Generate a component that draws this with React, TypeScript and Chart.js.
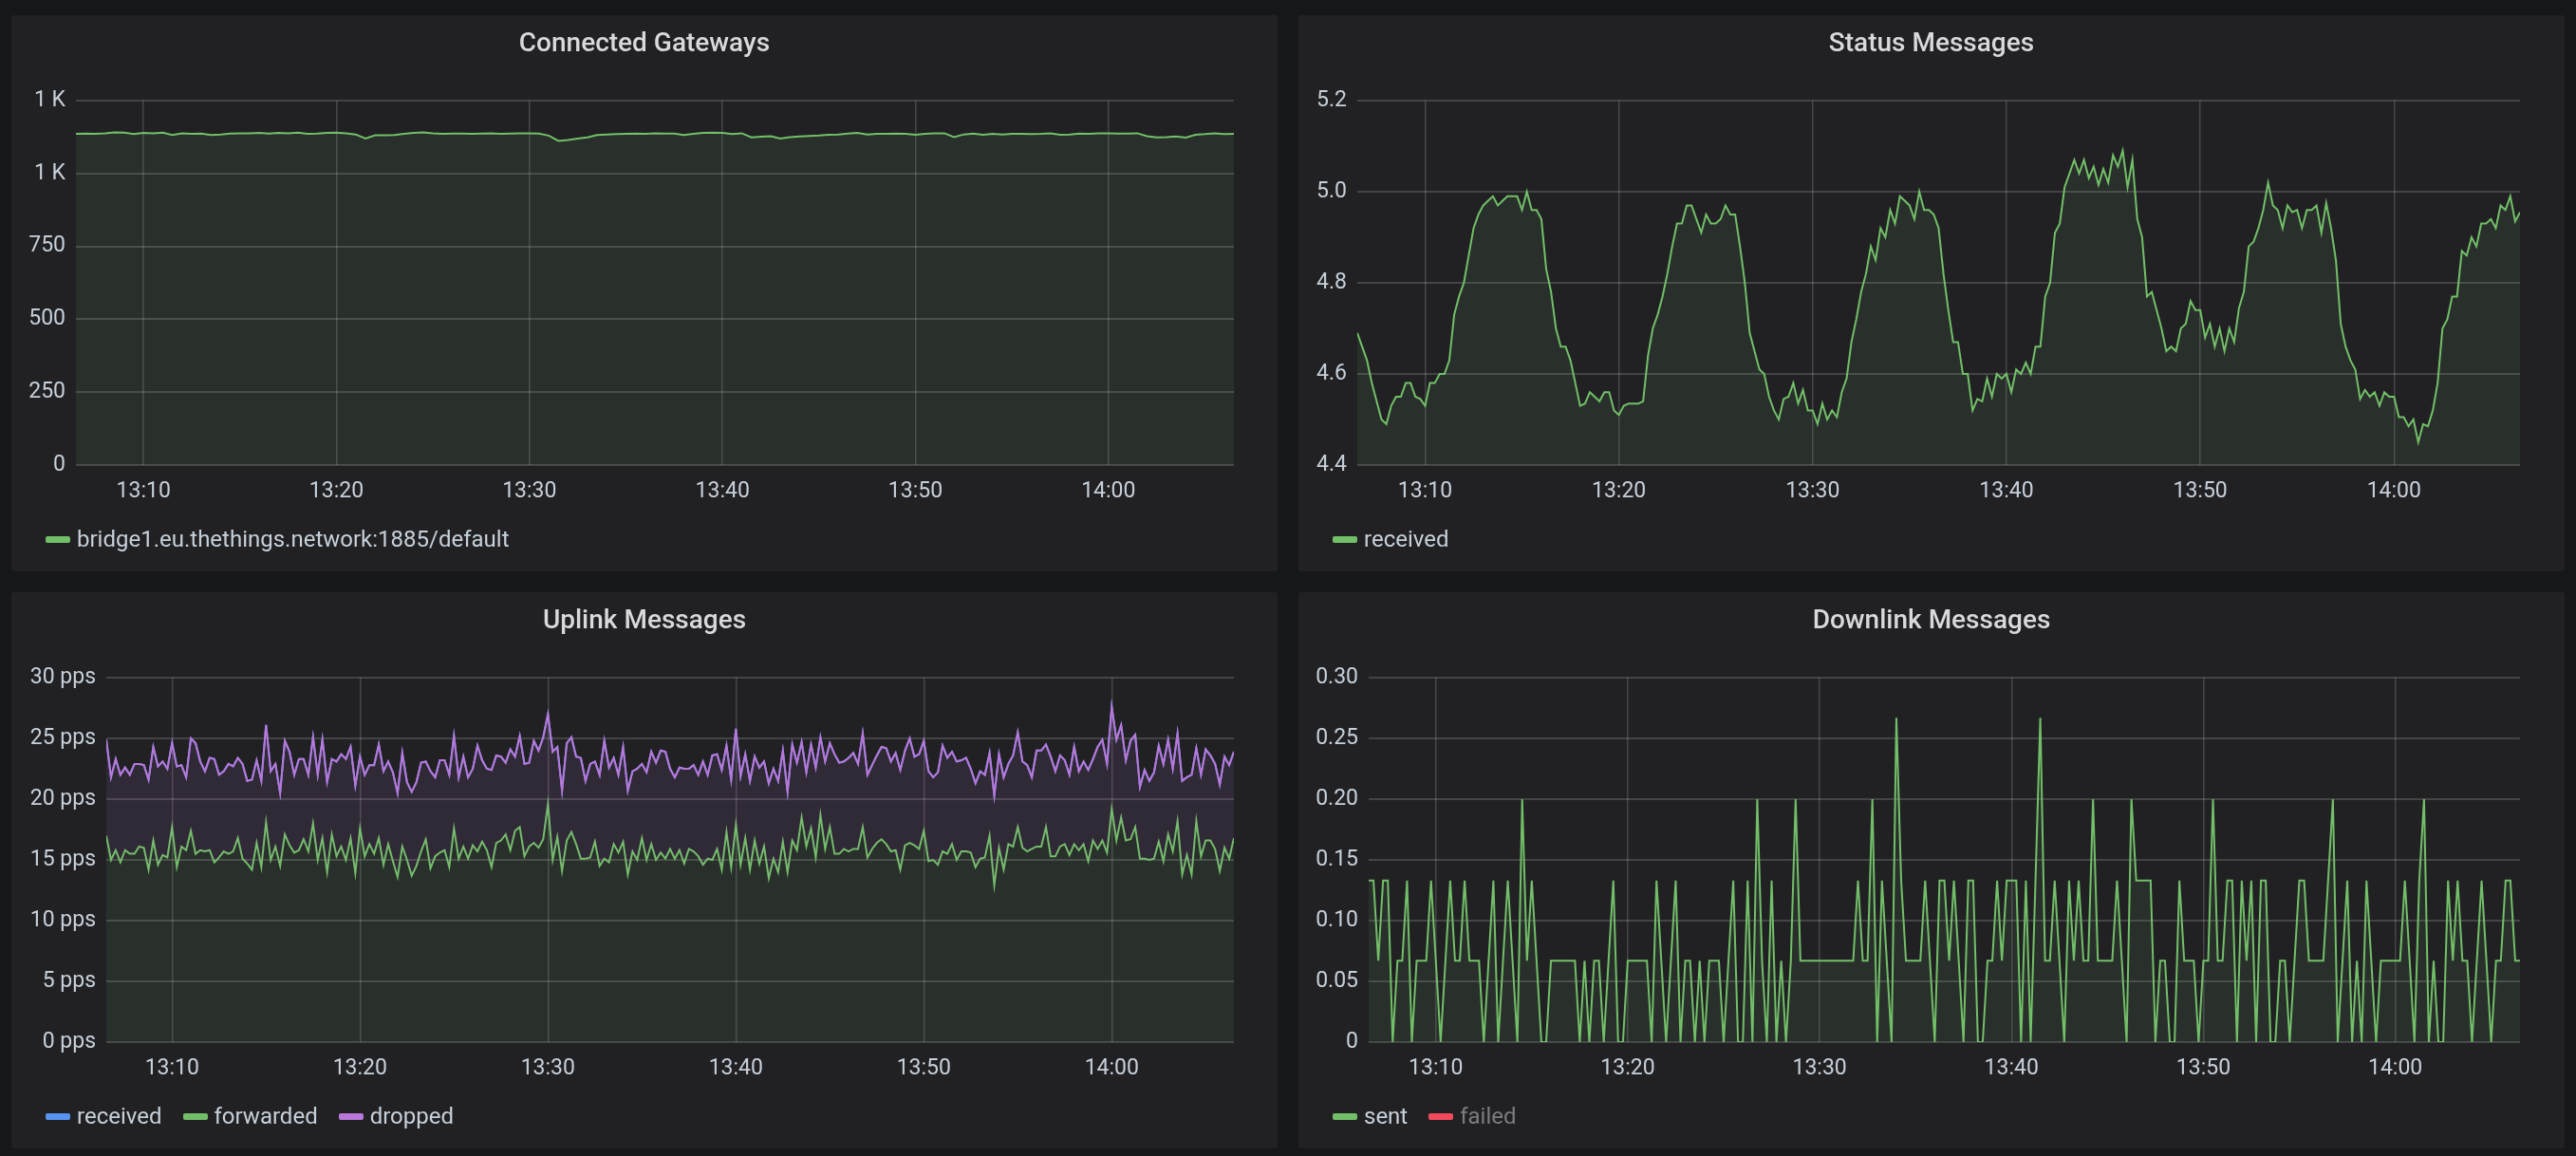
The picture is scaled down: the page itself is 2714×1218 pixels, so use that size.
import React, { useEffect, useRef } from "react";
import { Chart, registerables } from "chart.js";

Chart.register(...registerables);

// ---- time axis (minutes after 13:00) ----
const X_MIN = 6.5;
const X_MAX = 66.5;
const timeTicks = [10, 20, 30, 40, 50, 60];
const timeLabels = ["13:10", "13:20", "13:30", "13:40", "13:50", "14:00"];

// ---- y tick values / labels ----
const gatewayTicks = [0, 250, 500, 750, 1000, 1250];
const gatewayTickLabels = ["0", "250", "500", "750", "1 K", "1 K"];
const statusTicks = [4.4, 4.6, 4.8, 5.0, 5.2];
const statusTickLabels = ["4.4", "4.6", "4.8", "5.0", "5.2"];
const uplinkTicks = [0, 5, 10, 15, 20, 25, 30];
const uplinkTickLabels = ["0 pps", "5 pps", "10 pps", "15 pps", "20 pps", "25 pps", "30 pps"];
const downlinkTicks = [0, 0.05, 0.1, 0.15, 0.2, 0.25, 0.3];
const downlinkTickLabels = ["0", "0.05", "0.10", "0.15", "0.20", "0.25", "0.30"];

// ---- series ----
// Connected gateways, one sample per 30 s from 13:06:30 to 14:06:30
const gatewaysConnected = [
  1136, 1137, 1136, 1138, 1141, 1140, 1135, 1139, 1138, 1140,
  1132, 1138, 1136, 1137, 1132, 1134, 1137, 1138, 1138, 1139,
  1137, 1139, 1138, 1140, 1136, 1137, 1139, 1140, 1138, 1134,
  1120, 1131, 1131, 1132, 1136, 1139, 1141, 1138, 1136, 1137,
  1137, 1136, 1137, 1138, 1136, 1137, 1138, 1138, 1137, 1130,
  1112, 1115, 1120, 1124, 1132, 1134, 1135, 1136, 1137, 1136,
  1138, 1137, 1137, 1132, 1136, 1139, 1140, 1139, 1135, 1138,
  1124, 1126, 1128, 1120, 1125, 1127, 1129, 1130, 1133, 1134,
  1137, 1139, 1134, 1136, 1136, 1137, 1136, 1133, 1136, 1138,
  1138, 1125, 1134, 1137, 1133, 1136, 1134, 1136, 1136, 1135,
  1136, 1138, 1133, 1134, 1137, 1136, 1138, 1138, 1137, 1137,
  1138, 1128, 1124, 1125, 1127, 1123, 1133, 1135, 1138, 1135,
  1136,
];

// Status messages received, one sample per 15 s
const statusReceived = [
  4.69, 4.66, 4.63, 4.58, 4.54, 4.5, 4.49, 4.53, 4.55, 4.55,
  4.58, 4.58, 4.55, 4.545, 4.53, 4.58, 4.58, 4.6, 4.6, 4.63,
  4.73, 4.77, 4.8, 4.86, 4.92, 4.95, 4.97, 4.98, 4.99, 4.97,
  4.98, 4.99, 4.99, 4.99, 4.96, 5.0, 4.96, 4.96, 4.94, 4.83,
  4.78, 4.7, 4.66, 4.66, 4.63, 4.58, 4.53, 4.535, 4.56, 4.55,
  4.54, 4.56, 4.56, 4.52, 4.51, 4.53, 4.535, 4.535, 4.535, 4.54,
  4.64, 4.7, 4.73, 4.77, 4.82, 4.88, 4.93, 4.93, 4.97, 4.97,
  4.94, 4.91, 4.95, 4.93, 4.93, 4.94, 4.97, 4.95, 4.95, 4.88,
  4.8, 4.69, 4.65, 4.61, 4.6, 4.55, 4.52, 4.5, 4.545, 4.55,
  4.58, 4.535, 4.565, 4.52, 4.52, 4.49, 4.535, 4.5, 4.52, 4.505,
  4.56, 4.59, 4.67, 4.72, 4.78, 4.82, 4.88, 4.85, 4.92, 4.9,
  4.96, 4.93, 4.99, 4.98, 4.97, 4.94, 5.0, 4.96, 4.96, 4.95,
  4.92, 4.82, 4.74, 4.67, 4.67, 4.6, 4.6, 4.52, 4.545, 4.54,
  4.59, 4.55, 4.6, 4.59, 4.6, 4.56, 4.61, 4.6, 4.625, 4.6,
  4.66, 4.66, 4.77, 4.8, 4.91, 4.93, 5.01, 5.04, 5.07, 5.04,
  5.07, 5.03, 5.055, 5.015, 5.05, 5.02, 5.08, 5.055, 5.09, 5.01,
  5.07, 4.94, 4.9, 4.77, 4.78, 4.74, 4.7, 4.65, 4.66, 4.65,
  4.7, 4.71, 4.76, 4.74, 4.74, 4.68, 4.71, 4.66, 4.7, 4.65,
  4.7, 4.67, 4.745, 4.78, 4.88, 4.89, 4.92, 4.96, 5.02, 4.97,
  4.96, 4.92, 4.97, 4.955, 4.96, 4.92, 4.96, 4.96, 4.97, 4.91,
  4.975, 4.92, 4.85, 4.71, 4.66, 4.63, 4.61, 4.545, 4.565, 4.55,
  4.56, 4.53, 4.56, 4.55, 4.55, 4.505, 4.505, 4.485, 4.5, 4.45,
  4.49, 4.485, 4.52, 4.58, 4.7, 4.72, 4.77, 4.77, 4.87, 4.86,
  4.9, 4.88, 4.93, 4.93, 4.94, 4.92, 4.97, 4.96, 4.99, 4.935,
  4.955,
];

// Uplink: received (top edge of the stack) and forwarded, one sample per 15 s
const uplinkReceived = [
  24.9, 21.8, 23.3, 22.0, 22.6, 22.0, 22.9, 22.9, 22.8, 21.6,
  24.3, 22.7, 23.1, 22.5, 24.6, 22.7, 22.8, 21.8, 25.0, 24.6,
  23.1, 22.3, 23.4, 23.3, 22.0, 22.3, 22.9, 22.7, 23.4, 22.9,
  21.5, 21.6, 23.2, 21.5, 26.1, 22.3, 22.9, 20.5, 24.8, 23.9,
  22.0, 23.3, 23.3, 22.0, 25.1, 22.0, 24.9, 21.4, 23.3, 23.1,
  23.7, 23.3, 24.3, 21.1, 23.5, 22.0, 22.8, 22.8, 24.5, 22.3,
  23.1, 22.2, 20.5, 23.8, 21.4, 20.6, 21.4, 23.0, 23.1, 22.3,
  21.8, 23.2, 23.2, 22.0, 25.2, 21.8, 23.5, 21.8, 22.5, 24.4,
  23.2, 22.5, 22.4, 23.6, 23.5, 23.0, 24.1, 23.5, 25.2, 22.9,
  23.0, 24.8, 24.0, 25.1, 27.0, 23.9, 24.3, 20.7, 24.6, 25.1,
  23.5, 23.4, 21.5, 22.9, 23.1, 22.0, 24.8, 22.6, 23.4, 22.0,
  24.3, 20.7, 22.3, 22.5, 22.9, 22.2, 23.9, 23.0, 24.0, 23.9, 22.5,
  21.8, 22.6, 22.5, 22.5, 22.8, 22.0, 23.1, 22.0, 23.6, 23.7,
  22.4, 24.4, 21.6, 25.8, 21.9, 23.7, 21.5, 23.5, 22.6, 23.1,
  21.3, 22.5, 21.5, 24.0, 20.6, 24.5, 23.0, 24.7, 22.2, 24.5,
  22.6, 25.1, 23.1, 24.6, 23.7, 23.0, 23.1, 23.4, 23.8, 22.9,
  25.4, 22.0, 22.8, 23.6, 24.3, 24.2, 23.1, 23.8, 22.4, 24.0,
  25.0, 23.5, 23.7, 24.8, 22.3, 21.8, 22.2, 24.4, 23.4, 23.9,
  23.1, 23.2, 23.4, 22.5, 21.3, 22.3, 22.0, 23.8, 20.3, 23.7,
  21.8, 22.9, 23.6, 25.5, 23.1, 22.8, 21.8, 24.0, 24.0, 24.5,
  23.5, 22.3, 23.6, 23.2, 22.0, 24.3, 22.3, 23.1, 22.4, 23.3,
  24.3, 24.9, 22.9, 27.6, 24.9, 26.1, 23.2, 24.8, 25.3, 21.0,
  22.4, 21.5, 22.2, 24.4, 22.9, 24.9, 22.5, 25.4, 21.5, 21.8,
  22.0, 24.2, 22.0, 24.1, 23.6, 22.9, 21.2, 23.5, 22.8, 23.9,
];

const uplinkForwarded = [
  17.0, 15.0, 15.8, 14.8, 15.8, 15.5, 15.5, 16.1, 16.0, 14.2,
  16.6, 14.6, 15.4, 15.2, 17.7, 14.4, 16.1, 15.8, 17.4, 15.5,
  15.8, 15.7, 15.8, 14.8, 15.2, 15.7, 15.5, 15.7, 16.8, 15.1,
  14.7, 14.2, 16.4, 14.4, 18.1, 15.0, 16.1, 14.5, 17.1, 16.2,
  15.6, 15.8, 16.7, 15.7, 18.0, 15.0, 16.8, 14.0, 17.1, 15.3,
  16.1, 15.0, 16.8, 13.9, 17.6, 15.3, 16.3, 15.5, 16.8, 14.6,
  16.3, 14.9, 13.6, 16.1, 15.0, 13.7, 14.5, 15.7, 16.7, 14.3,
  15.3, 15.6, 15.8, 14.4, 17.6, 15.1, 16.1, 15.1, 16.2, 15.7,
  16.5, 15.8, 14.4, 16.4, 16.6, 17.1, 15.8, 17.4, 17.7, 15.3,
  16.1, 16.4, 16.0, 16.7, 19.6, 15.0, 16.9, 14.1, 16.6, 17.3,
  16.3, 15.1, 15.1, 15.2, 16.5, 14.5, 15.1, 14.8, 16.3, 15.6,
  16.5, 13.8, 15.7, 15.0, 16.8, 15.0, 16.3, 15.0, 15.6, 15.1, 15.9,
  15.1, 15.8, 14.7, 15.9, 15.7, 15.3, 14.6, 15.1, 15.0, 15.9,
  14.2, 17.3, 14.4, 17.9, 14.6, 16.8, 14.2, 16.6, 14.7, 16.1,
  13.5, 15.1, 14.0, 16.5, 14.0, 16.6, 15.8, 18.5, 16.1, 17.6,
  15.2, 18.7, 15.9, 17.7, 15.5, 15.5, 15.9, 15.7, 15.9, 15.9,
  17.7, 15.2, 15.9, 16.4, 16.7, 16.3, 15.7, 15.8, 14.2, 16.2,
  16.4, 16.2, 15.9, 17.4, 14.9, 15.0, 14.6, 15.7, 15.5, 16.3,
  15.0, 15.7, 15.7, 15.6, 14.4, 15.1, 15.2, 17.0, 12.9, 16.0,
  14.2, 16.3, 16.1, 17.7, 16.0, 15.7, 15.9, 16.1, 16.1, 17.7,
  15.3, 15.3, 16.1, 16.3, 15.4, 16.3, 15.8, 16.3, 14.9, 16.6,
  15.9, 16.6, 15.6, 19.2, 16.6, 18.5, 16.6, 16.7, 17.7, 15.1,
  15.1, 15.0, 15.1, 16.5, 14.9, 17.1, 15.7, 18.2, 13.8, 15.4,
  13.8, 18.2, 15.3, 16.6, 16.6, 15.9, 14.1, 16.0, 15.1, 16.8,
];

// Downlink messages sent per second, one sample per 15 s
const downlinkSent = [
  0.133, 0.133, 0.067, 0.133, 0.133, 0, 0.067, 0.067, 0.133, 0,
  0.067, 0.067, 0.067, 0.133, 0.067, 0, 0.067, 0.133, 0.067, 0.067,
  0.133, 0.067, 0.067, 0.067, 0, 0.067, 0.133, 0, 0.067, 0.133,
  0.067, 0, 0.2, 0.067, 0.133, 0.067, 0, 0, 0.067, 0.067,
  0.067, 0.067, 0.067, 0.067, 0, 0.067, 0, 0.067, 0.067, 0,
  0.067, 0.133, 0, 0, 0.067, 0.067, 0.067, 0.067, 0.067, 0,
  0.133, 0.067, 0, 0.067, 0.133, 0, 0.067, 0.067, 0, 0.067,
  0, 0.067, 0.067, 0.067, 0, 0.067, 0.133, 0, 0, 0.133,
  0, 0.2, 0.067, 0, 0.133, 0, 0.067, 0, 0.067, 0.2,
  0.067, 0.067, 0.067, 0.067, 0.067, 0.067, 0.067, 0.067, 0.067, 0.067,
  0.067, 0.067, 0.133, 0.067, 0.067, 0.2, 0, 0.133, 0.067, 0,
  0.267, 0.133, 0.067, 0.067, 0.067, 0.067, 0.133, 0.067, 0, 0.133,
  0.133, 0.067, 0.133,
  0.067, 0, 0.133, 0.133, 0, 0, 0.067, 0.067, 0.133, 0.067,
  0.133, 0.133, 0.133, 0, 0.133, 0, 0.133, 0.267, 0.067, 0.067,
  0.133, 0.067, 0, 0.133, 0.067, 0.133, 0.067, 0.067, 0.2, 0.067,
  0.067, 0.067, 0.067, 0.133, 0.067, 0, 0.2, 0.133, 0.133, 0.133,
  0.133, 0, 0.067, 0.067, 0, 0, 0.133, 0.067, 0.067, 0.067,
  0, 0.067, 0.067, 0.2, 0.067, 0.067, 0.133, 0.133, 0, 0.133,
  0.067, 0.133, 0, 0.133, 0.133, 0, 0, 0.067, 0.067, 0,
  0.067, 0.133, 0.133, 0.067, 0.067, 0.067, 0.067, 0.133, 0.2, 0,
  0.067, 0.133, 0, 0.067, 0, 0.133, 0.067, 0, 0.067, 0.067,
  0.067, 0.067, 0.067, 0.133, 0.067, 0, 0.133, 0.2, 0, 0.067,
  0, 0, 0.133, 0.067, 0.133, 0.067, 0.067, 0, 0.067, 0.133,
  0.067, 0, 0.067, 0.067, 0.133, 0.133, 0.067, 0.067,
];
const downlinkFailed: number[] = [];

// ---- styling ----
const PAGE_BG = "#161719";
const PANEL_BG = "#212124";
const TEXT = "#c7d0d9";
const TITLE = "#d8d9da";
const GRID_H = "rgba(255,255,255,0.16)";
const GRID_V = "rgba(255,255,255,0.17)";
const GREEN = "#73BF69";
const PURPLE = "#B877D9";
const BLUE = "#5794F2";
const RED = "#F2495C";
const GREEN_FILL = "rgba(115,191,105,0.1)";
const PURPLE_FILL = "rgba(184,119,217,0.1)";
const FONT = "Roboto, 'Noto Sans', sans-serif";

const PANEL_W = 1334;
const PANEL_H = 586;
const X_AXIS_H = 60;

type Plot = { l: number; r: number; t: number; b: number };
type LegendItem = { label: string; color: string; hidden?: boolean };

function toPoints(values: number[]) {
  const step = values.length > 1 ? (X_MAX - X_MIN) / (values.length - 1) : 0;
  return values.map((y, i) => ({ x: X_MIN + i * step, y }));
}

function makeOptions(plot: Plot, ticks: number[], labels: string[]): any {
  const tickFont = { family: FONT, size: 23 };
  return {
    responsive: false,
    maintainAspectRatio: false,
    animation: false,
    events: [],
    layout: {
      padding: {
        left: 0,
        right: PANEL_W - plot.r,
        top: plot.t,
        bottom: PANEL_H - plot.b - X_AXIS_H,
      },
    },
    plugins: {
      legend: { display: false },
      tooltip: { enabled: false },
      title: { display: false },
    },
    elements: {
      point: { radius: 0 },
      line: { tension: 0, borderWidth: 2 },
    },
    scales: {
      x: {
        type: "linear",
        min: X_MIN,
        max: X_MAX,
        afterBuildTicks: (s: any) => {
          s.ticks = timeTicks.map((value) => ({ value }));
        },
        afterFit: (s: any) => {
          s.height = X_AXIS_H;
        },
        border: { display: false },
        grid: { color: GRID_V, lineWidth: 1.5, drawTicks: false },
        ticks: {
          color: TEXT,
          font: tickFont,
          padding: 14,
          maxRotation: 0,
          autoSkip: false,
          callback: (_v: any, i: number) => timeLabels[i],
        },
      },
      y: {
        type: "linear",
        min: ticks[0],
        max: ticks[ticks.length - 1],
        afterBuildTicks: (s: any) => {
          s.ticks = ticks.map((value) => ({ value }));
        },
        afterFit: (s: any) => {
          s.width = plot.l;
        },
        border: { display: false },
        grid: { color: GRID_H, lineWidth: 2, drawTicks: false },
        ticks: {
          color: TEXT,
          font: tickFont,
          padding: 11,
          autoSkip: false,
          callback: (_v: any, i: number) => labels[i],
        },
      },
    },
  };
}

function gatewaysConfig(): any {
  const plot = { l: 68, r: 1288, t: 90, b: 474 };
  return {
    type: "line",
    data: {
      datasets: [
        {
          label: "bridge1.eu.thethings.network:1885/default",
          data: toPoints(gatewaysConnected),
          borderColor: GREEN,
          backgroundColor: GREEN_FILL,
          fill: "origin",
        },
      ],
    },
    options: makeOptions(plot, gatewayTicks, gatewayTickLabels),
  };
}

function statusConfig(): any {
  const plot = { l: 62, r: 1287, t: 90, b: 474 };
  return {
    type: "line",
    data: {
      datasets: [
        {
          label: "received",
          data: toPoints(statusReceived),
          borderColor: GREEN,
          backgroundColor: GREEN_FILL,
          fill: "start",
        },
      ],
    },
    options: makeOptions(plot, statusTicks, statusTickLabels),
  };
}

function uplinkConfig(): any {
  const plot = { l: 100, r: 1288, t: 90, b: 474 };
  return {
    type: "line",
    data: {
      datasets: [
        {
          label: "received",
          data: toPoints(uplinkReceived),
          borderColor: BLUE,
          fill: false,
          order: 3,
        },
        {
          label: "forwarded",
          data: toPoints(uplinkForwarded),
          borderColor: GREEN,
          backgroundColor: GREEN_FILL,
          fill: "origin",
          order: 2,
        },
        {
          // dropped is stacked on forwarded: its top edge is the received total
          label: "dropped",
          data: toPoints(uplinkReceived),
          borderColor: PURPLE,
          backgroundColor: PURPLE_FILL,
          fill: 1,
          order: 1,
        },
      ],
    },
    options: makeOptions(plot, uplinkTicks, uplinkTickLabels),
  };
}

function downlinkConfig(): any {
  const plot = { l: 74, r: 1287, t: 90, b: 474 };
  return {
    type: "line",
    data: {
      datasets: [
        {
          label: "sent",
          data: toPoints(downlinkSent),
          borderColor: GREEN,
          backgroundColor: GREEN_FILL,
          fill: "origin",
        },
        {
          label: "failed",
          data: toPoints(downlinkFailed),
          borderColor: RED,
          hidden: true,
        },
      ],
    },
    options: makeOptions(plot, downlinkTicks, downlinkTickLabels),
  };
}

function Panel(props: {
  left: number;
  top: number;
  title: string;
  build: () => any;
  legend: LegendItem[];
}) {
  const ref = useRef<HTMLCanvasElement | null>(null);
  useEffect(() => {
    if (!ref.current) return;
    const chart = new Chart(ref.current, props.build());
    return () => chart.destroy();
  }, []);
  return (
    <div
      style={{
        position: "absolute",
        left: props.left,
        top: props.top,
        width: PANEL_W,
        height: PANEL_H,
        background: PANEL_BG,
        borderRadius: 3,
        overflow: "hidden",
      }}
    >
      <canvas
        ref={ref}
        width={PANEL_W}
        height={PANEL_H}
        style={{ position: "absolute", left: 0, top: 0, width: PANEL_W, height: PANEL_H }}
      />
      <div
        style={{
          position: "absolute",
          left: 0,
          right: 0,
          top: 13,
          height: 32,
          lineHeight: "32px",
          textAlign: "center",
          fontFamily: FONT,
          fontWeight: 500,
          fontSize: 28,
          color: TITLE,
        }}
      >
        {props.title}
      </div>
      <div
        style={{
          position: "absolute",
          left: 36,
          top: 536,
          height: 32,
          display: "flex",
          alignItems: "center",
          fontFamily: FONT,
          fontSize: 24,
        }}
      >
        {props.legend.map((item) => (
          <div key={item.label} style={{ display: "flex", alignItems: "center", marginRight: 22 }}>
            <span
              style={{
                display: "inline-block",
                width: 26,
                height: 7,
                borderRadius: 2,
                background: item.color,
                marginRight: 7,
              }}
            />
            <span style={{ color: item.hidden ? "#7b7c80" : TEXT }}>{item.label}</span>
          </div>
        ))}
      </div>
    </div>
  );
}

export default function App() {
  return (
    <div
      style={{
        position: "fixed",
        left: 0,
        top: 0,
        width: 2714,
        height: 1218,
        background: PAGE_BG,
        overflow: "hidden",
      }}
    >
      <Panel
        left={12}
        top={16}
        title="Connected Gateways"
        build={gatewaysConfig}
        legend={[{ label: "bridge1.eu.thethings.network:1885/default", color: GREEN }]}
      />
      <Panel
        left={1368}
        top={16}
        title="Status Messages"
        build={statusConfig}
        legend={[{ label: "received", color: GREEN }]}
      />
      <Panel
        left={12}
        top={624}
        title="Uplink Messages"
        build={uplinkConfig}
        legend={[
          { label: "received", color: BLUE },
          { label: "forwarded", color: GREEN },
          { label: "dropped", color: PURPLE },
        ]}
      />
      <Panel
        left={1368}
        top={624}
        title="Downlink Messages"
        build={downlinkConfig}
        legend={[
          { label: "sent", color: GREEN },
          { label: "failed", color: RED, hidden: true },
        ]}
      />
    </div>
  );
}
